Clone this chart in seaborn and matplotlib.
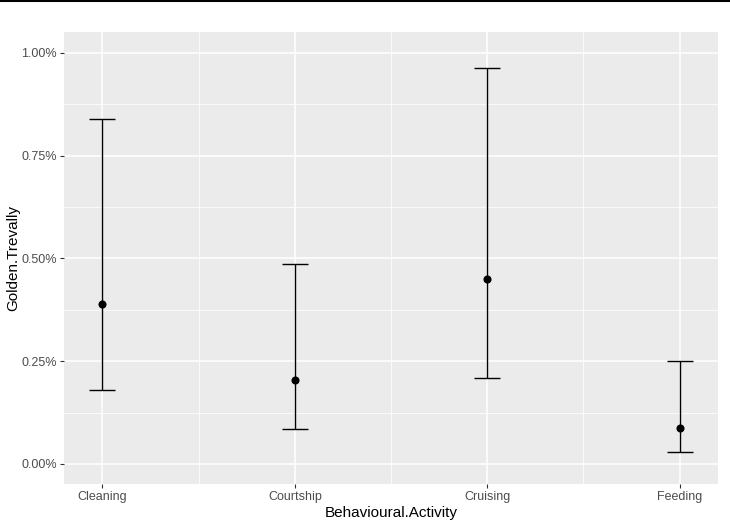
import pandas as pd
import seaborn as sns
import matplotlib.pyplot as plt
from matplotlib.lines import Line2D
from matplotlib.ticker import FuncFormatter

# values (proportions in %)
activity = ['Cleaning', 'Courtship', 'Cruising', 'Feeding']
mean_pct = [0.39, 0.205, 0.45, 0.087]
lower_pct = [0.18, 0.085, 0.209, 0.029]
upper_pct = [0.84, 0.486, 0.963, 0.251]
y_ticks = [0.0, 0.25, 0.5, 0.75, 1.0]

df = pd.DataFrame({'Behavioural.Activity': activity, 'Golden.Trevally': mean_pct,
                   'lo': lower_pct, 'hi': upper_pct})

sns.set_theme(style='darkgrid', rc={'axes.facecolor': '#EBEBEB', 'grid.color': 'white'})
plt.rcParams['font.family'] = ['Liberation Sans', 'DejaVu Sans']

fig = plt.figure(figsize=(7.3, 5.3), dpi=100)
ax = fig.add_axes([64 / 730, 46 / 530, 654 / 730, 452 / 530])

# error bars
ax.errorbar(range(len(activity)), df['Golden.Trevally'],
            yerr=[df['Golden.Trevally'] - df['lo'], df['hi'] - df['Golden.Trevally']],
            fmt='none', ecolor='black', elinewidth=1, capsize=9.5, capthick=1, zorder=3)
sns.scatterplot(data=df, x='Behavioural.Activity', y='Golden.Trevally', ax=ax,
                color='black', s=34, edgecolor='black', linewidth=0, zorder=4)

ax.set_xlim(-0.2, 3.2)
ax.set_ylim(-0.049, 1.051)
ax.set_yticks(y_ticks)
ax.yaxis.set_major_formatter(FuncFormatter(lambda v, p: f'{v:.2f}%'))
ax.set_yticks([0.125, 0.375, 0.625, 0.875], minor=True)
ax.set_xticks([0.5, 1.5, 2.5], minor=True)
ax.grid(which='major', color='white', linewidth=1.1)
ax.grid(which='minor', color='white', linewidth=0.55)

for s in ax.spines.values():
    s.set_visible(False)
ax.tick_params(axis='both', which='major', length=3, width=0.8, color='#333333',
               labelcolor='#4D4D4D', labelsize=9, pad=2)
ax.tick_params(which='minor', length=0)
ax.tick_params(axis='x', bottom=True)
ax.tick_params(axis='y', left=True)

ax.set_xlabel('Behavioural.Activity', fontsize=11, color='black', labelpad=2)
ax.set_ylabel('Golden.Trevally', fontsize=11, color='black', labelpad=1)

# thin black rule along the top edge of the image
fig.add_artist(Line2D([0, 1], [0.999, 0.999], color='black', linewidth=1.5,
                      transform=fig.transFigure))

fig.savefig('out.png', dpi=100)
